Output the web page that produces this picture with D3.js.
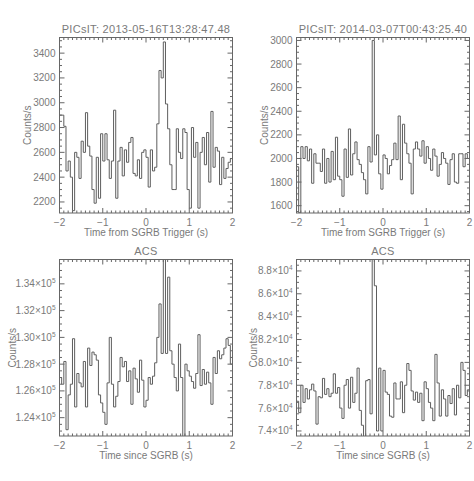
<!DOCTYPE html>
<html><head><meta charset="utf-8">
<script src="https://cdn.jsdelivr.net/npm/d3@7"></script>
<style>
html,body{margin:0;padding:0;background:#fff;}
svg text{font-family:"Liberation Sans",Arial,sans-serif;fill:#7a7a7a;}
</style></head>
<body><svg id="chart" width="474" height="481"></svg>
<script>
// ---- data: 0.05 s bins starting at -2 s ----
const binStart = -2, binWidth = 0.05;
const picsit2013 = [2900,2900,2810,2450,2530,2400,2130,2600,2560,2390,2690,2600,2920,2650,2570,2300,2190,2560,2230,2750,
  2530,2750,2540,2390,2530,2940,2230,2530,2640,2410,2620,2520,2680,2720,2430,2410,2540,2390,2600,2620,
  2560,2320,2620,2450,2480,2830,3260,3200,3490,2990,2790,2500,2300,2300,2790,2600,2550,2790,2760,2300,
  2150,2800,2560,2680,2150,2600,2720,2500,2760,2360,2930,2480,2640,2610,2340,2560,2390,2470,2520,2550];
const picsit2014 = [1930,1540,2100,2000,2100,1980,2080,1790,2040,1960,1960,1890,2080,1790,2000,1800,2060,1820,2180,1850,
  1820,1680,2080,1840,2250,1860,2040,2140,1990,1950,1880,1820,1700,2100,1970,3000,2030,2200,1870,1740,
  2030,2000,1870,1940,1990,2130,1990,2360,1820,2290,2130,2040,1960,1700,2080,2140,2080,2020,2150,1960,
  2100,2000,1900,2080,2020,1850,1950,2050,2000,1960,1780,1990,2040,1800,1790,2040,2040,1930,2040,2000];
const acs2013 = [127000,126500,128200,123100,125700,126500,129900,124800,127300,126600,126300,128200,124800,129200,127900,128900,128700,128300,125700,125100,
  124400,123500,126600,130000,126500,124800,125600,126700,128500,127800,128200,126700,127500,125000,127700,126900,125900,128300,126800,124800,
  125300,127000,126500,127100,128100,130000,132500,128800,136000,128800,134500,129000,128000,127000,126000,129500,127000,122500,128000,127500,
  127100,126700,126200,127300,130200,126400,127600,126500,127400,126600,125000,128500,127300,129000,128400,128700,129200,129900,129400,128000];
const acs2014 = [76600,75600,78000,76500,77700,76800,77600,78100,77500,74600,77000,76900,78600,77200,77700,77000,77300,79000,77300,77800,
  76000,75100,78000,78500,76000,78700,76500,77300,79500,75800,74500,73300,78400,78500,75500,89500,86700,74000,79500,74000,
  79300,77400,77200,75300,75200,78200,76800,76800,78300,75600,78000,79900,79300,77500,76700,77400,76500,77300,74900,78300,
  77700,76500,76000,74900,80700,78200,75300,77600,76800,75300,77100,76400,77700,75400,78000,76900,80000,79300,77100,77600];

const xTicks = [-2,-1,0,1,2];
const xTickLabels = ["\u22122","\u22121","0","1","2"];
const yTicksP13 = [2200,2400,2600,2800,3000,3200,3400];
const yTicksP14 = [1600,1800,2000,2200,2400,2600,2800,3000];
const yTicksA13 = [124000,126000,128000,130000,132000,134000];
const yTicksA14 = [74000,76000,78000,80000,82000,84000,86000,88000];

const titles = ["PICsIT: 2013-05-16T13:28:47.48","PICsIT: 2014-03-07T00:43:25.40","ACS","ACS"];
const xTitles = ["Time from SGRB Trigger (s)","Time from SGRB Trigger (s)","Time since SGRB (s)","Time since SGRB (s)"];
const yTitle = "Counts/s";

// ---- layout ----
const svg = d3.select("#chart");
const panels = [
  {vals:picsit2013, x0:59.5, x1:232.5, y0:37.5, y1:213, ydom:[2111,3526], ticks:yTicksP13, minor:50, sci:null, ylabX:27},
  {vals:picsit2014, x0:296.5, x1:469.5, y0:37.5, y1:213, ydom:[1538,3025], ticks:yTicksP14, minor:50, sci:null, ylabX:264},
  {vals:acs2013, x0:59.5, x1:232.5, y0:259.5, y1:436, ydom:[122630,135820], ticks:yTicksA13, minor:500, sci:{p:5,dec:2}, ylabX:12},
  {vals:acs2014, x0:296.5, x1:469.5, y0:259.5, y1:436, ydom:[73560,89000], ticks:yTicksA14, minor:500, sci:{p:4,dec:1}, ylabX:253}
];
const frameCol = "#666", lineCol = "#5e5e5e";

panels.forEach((p,k)=>{
  const x = d3.scaleLinear().domain([-2,2]).range([p.x0,p.x1]);
  const y = d3.scaleLinear().domain(p.ydom).range([p.y1,p.y0]);
  const g = svg.append("g");
  const clipId = "clip"+k;
  svg.append("clipPath").attr("id",clipId).append("rect")
    .attr("x",p.x0).attr("y",p.y0).attr("width",p.x1-p.x0).attr("height",p.y1-p.y0);

  // data step line
  const pts = p.vals.map((v,i)=>[binStart+i*binWidth, v]);
  pts.push([binStart+p.vals.length*binWidth, p.vals[p.vals.length-1]]);
  const line = d3.line().x(d=>x(d[0])).y(d=>y(d[1])).curve(d3.curveStepAfter);
  g.append("path").attr("d",line(pts)).attr("clip-path",`url(#${clipId})`)
    .attr("fill","none").attr("stroke",lineCol).attr("stroke-width",1);

  // frame
  g.append("rect").attr("x",p.x0).attr("y",p.y0).attr("width",p.x1-p.x0).attr("height",p.y1-p.y0)
    .attr("fill","none").attr("stroke",frameCol).attr("stroke-width",1);

  // x ticks (inward, top and bottom)
  const xMinor = d3.range(-20,21).map(d=>d/10);
  const tk = g.append("g").attr("stroke",frameCol).attr("stroke-width",1);
  xMinor.forEach(t=>{
    const major = Math.abs(t-Math.round(t))<1e-9;
    const L = major?5:2.5;
    tk.append("line").attr("x1",x(t)).attr("x2",x(t)).attr("y1",p.y1).attr("y2",p.y1-L);
    tk.append("line").attr("x1",x(t)).attr("x2",x(t)).attr("y1",p.y0).attr("y2",p.y0+L);
  });
  // y ticks
  const lo = Math.ceil(p.ydom[0]/p.minor)*p.minor;
  for(let v=lo; v<=p.ydom[1]; v+=p.minor){
    const major = p.ticks.includes(v);
    const L = major?5:2.5;
    tk.append("line").attr("y1",y(v)).attr("y2",y(v)).attr("x1",p.x0).attr("x2",p.x0+L);
    tk.append("line").attr("y1",y(v)).attr("y2",y(v)).attr("x1",p.x1).attr("x2",p.x1-L);
  }

  // x tick labels
  xTicks.forEach((t,i)=>{
    g.append("text").attr("x",x(t)).attr("y",p.y1+13).attr("text-anchor","middle")
      .attr("font-size",10).text(xTickLabels[i]);
  });
  // y tick labels
  p.ticks.forEach(v=>{
    const t = g.append("text").attr("x",p.x0-4).attr("y",y(v)+3.5).attr("text-anchor","end").attr("font-size",10);
    if(p.sci){
      t.append("tspan").text((v/Math.pow(10,p.sci.p)).toFixed(p.sci.dec)+"\u00d710");
      t.append("tspan").attr("dy",-4).attr("font-size",6.5).text(p.sci.p);
    } else t.text(v);
  });
  // titles
  g.append("text").attr("x",(p.x0+p.x1)/2).attr("y",p.y0-5).attr("text-anchor","middle")
    .attr("font-size",11).attr("letter-spacing",0.3).text(titles[k]);
  g.append("text").attr("x",(p.x0+p.x1)/2).attr("y",p.y1+23).attr("text-anchor","middle")
    .attr("font-size",10).text(xTitles[k]);
  g.append("text").attr("transform",`translate(${p.ylabX},${(p.y0+p.y1)/2}) rotate(-90)`)
    .attr("text-anchor","middle").attr("dy","0.35em").attr("font-size",10).text(yTitle);
});
</script></body></html>
